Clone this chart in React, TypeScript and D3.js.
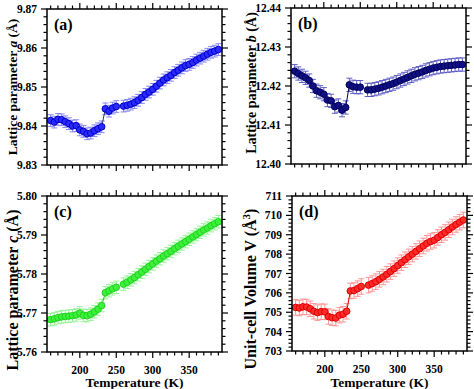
import React from 'react';
import * as d3 from 'd3';

// temperature steps (K); no point at 255 K
const temperature = [160, 165, 170, 175, 180, 185, 190, 195, 200, 205, 210, 215, 220, 225, 230,
  235, 240, 245, 250,
  260, 265, 270, 275, 280, 285, 290, 295, 300, 305, 310, 315, 320, 325, 330, 335, 340, 345,
  350, 355, 360, 365, 370, 375, 380, 385, 390];

const latticeA = [9.8414, 9.8410, 9.8417, 9.8416, 9.8411, 9.8406, 9.8400, 9.8401, 9.8390, 9.8386,
  9.8380, 9.8382, 9.8388, 9.8393, 9.8398,
  9.8444, 9.8438, 9.8446, 9.8450,
  9.8451, 9.8453, 9.8456, 9.8460, 9.8466, 9.8473, 9.8481, 9.8487, 9.8494, 9.8502, 9.8510,
  9.8518, 9.8524, 9.8530, 9.8537, 9.8543, 9.8549, 9.8555, 9.8558, 9.8563, 9.8569, 9.8574,
  9.8579, 9.8584, 9.8589, 9.8592, 9.8596];

const latticeB = [12.4238, 12.4232, 12.4226, 12.4221, 12.4214, 12.4200, 12.4188, 12.4184, 12.4179,
  12.4164, 12.4162, 12.4147, 12.4150, 12.4138, 12.4145,
  12.4203, 12.4198, 12.4197, 12.4197,
  12.4190, 12.4190, 12.4192, 12.4194, 12.4197, 12.4200, 12.4203, 12.4206, 12.4210, 12.4214,
  12.4218, 12.4222, 12.4226, 12.4230, 12.4233, 12.4236, 12.4240, 12.4243, 12.4246, 12.4248,
  12.4250, 12.4251, 12.4252, 12.4253, 12.4254, 12.4255, 12.4255];

const latticeC = [5.7683, 5.7685, 5.7688, 5.7690, 5.7691, 5.7692, 5.7693, 5.7695, 5.7700, 5.7694,
  5.7693, 5.7697, 5.7703, 5.7710, 5.7719,
  5.7752, 5.7757, 5.7762, 5.7766,
  5.7774, 5.7779, 5.7785, 5.7791, 5.7798, 5.7805, 5.7812, 5.7819, 5.7826, 5.7833, 5.7839,
  5.7846, 5.7852, 5.7858, 5.7865, 5.7871, 5.7877, 5.7883, 5.7889, 5.7895, 5.7901, 5.7907,
  5.7913, 5.7918, 5.7924, 5.7929, 5.7934];

const volume = [705.25, 705.22, 705.28, 705.27, 705.18, 705.05, 704.98, 705.03, 705.02, 704.78,
  704.72, 704.70, 704.85, 704.90, 705.05,
  706.10, 706.12, 706.22, 706.33,
  706.40, 706.48, 706.58, 706.70, 706.82, 706.96, 707.10, 707.25, 707.41, 707.56, 707.71,
  707.86, 708.00, 708.14, 708.28, 708.42, 708.56, 708.65, 708.72, 708.86, 709.00, 709.12,
  709.26, 709.40, 709.53, 709.65, 709.76];

const errA = 0.0015;
const errB = 0.0017;
const errC = 0.0016;
const errV = 0.4;

const xMajor = [200, 250, 300, 350];
const xMinor = [160, 170, 180, 190, 210, 220, 230, 240, 260, 270, 280, 290, 310, 320, 330, 340, 360, 370, 380, 390];

const serif = { fontFamily: 'Liberation Serif, Times New Roman, serif', fontWeight: 700 };

type PanelProps = {
  left: number; right: number; top: number; bottom: number;
  yDomain: [number, number]; yStep: number; yMinorStep: number; fmt: (v: number) => string;
  values: number[]; err: number;
  fill: string; stroke: string; errColor: string; lineColor: string;
  tag: string; title: React.ReactNode; titleX: number; titleY: number; titleSize: number;
  xLabels: boolean;
};

function Panel(p: PanelProps) {
  const x = d3.scaleLinear().domain([155, 395]).range([p.left, p.right]);
  const y = d3.scaleLinear().domain(p.yDomain).range([p.bottom, p.top]);
  const yMajor = d3.range(p.yDomain[0], p.yDomain[1] + p.yStep / 2, p.yStep);
  const yMinor = d3.range(p.yDomain[0], p.yDomain[1] + p.yMinorStep / 2, p.yMinorStep)
    .filter(v => yMajor.every(m => Math.abs(m - v) > p.yMinorStep / 10));

  // split into runs where the temperature step is 5 K
  const segments: number[][] = [];
  temperature.forEach((t, i) => {
    if (i === 0 || t - temperature[i - 1] > 5) segments.push([]);
    segments[segments.length - 1].push(i);
  });
  const line = d3.line<number>().x(i => x(temperature[i])).y(i => y(p.values[i]));
  const cap = 3;

  return (
    <g>
      {temperature.map((t, i) => {
        const cx = x(t), y1 = y(p.values[i] - p.err), y2 = y(p.values[i] + p.err);
        return (
          <g key={'e' + i} stroke={p.errColor} strokeWidth={0.9}>
            <line x1={cx} x2={cx} y1={y1} y2={y2} />
            <line x1={cx - cap} x2={cx + cap} y1={y1} y2={y1} />
            <line x1={cx - cap} x2={cx + cap} y1={y2} y2={y2} />
          </g>
        );
      })}
      {segments.map((s, k) => (
        <path key={'l' + k} d={line(s) || ''} fill="none" stroke={p.lineColor} strokeWidth={1} />
      ))}
      {temperature.map((t, i) => (
        <circle key={'m' + i} cx={x(t)} cy={y(p.values[i])} r={3.3} fill={p.fill} stroke={p.stroke} strokeWidth={1} />
      ))}
      <rect x={p.left} y={p.top} width={p.right - p.left} height={p.bottom - p.top} fill="none" stroke="#000" strokeWidth={1.5} />
      <g stroke="#000" strokeWidth={1.2}>
        {xMajor.map(t => (
          <g key={'xM' + t}>
            <line x1={x(t)} x2={x(t)} y1={p.bottom} y2={p.bottom + 6} />
            <line x1={x(t)} x2={x(t)} y1={p.top} y2={p.top - 6} />
          </g>
        ))}
        {xMinor.map(t => (
          <g key={'xm' + t}>
            <line x1={x(t)} x2={x(t)} y1={p.bottom} y2={p.bottom + 3.5} />
            <line x1={x(t)} x2={x(t)} y1={p.top} y2={p.top - 3.5} />
          </g>
        ))}
        {yMajor.map(v => (
          <g key={'yM' + v}>
            <line x1={p.left} x2={p.left - 6} y1={y(v)} y2={y(v)} />
            <line x1={p.right} x2={p.right + 6} y1={y(v)} y2={y(v)} />
          </g>
        ))}
        {yMinor.map(v => (
          <g key={'ym' + v}>
            <line x1={p.left} x2={p.left - 3.5} y1={y(v)} y2={y(v)} />
            <line x1={p.right} x2={p.right + 3.5} y1={y(v)} y2={y(v)} />
          </g>
        ))}
      </g>
      <g style={serif} fontSize={11.5} fill="#000">
        {yMajor.map(v => (
          <text key={'yl' + v} x={p.left - 10} y={y(v)} dy="0.35em" textAnchor="end" style={serif}>{p.fmt(v)}</text>
        ))}
        {p.xLabels && xMajor.map(t => (
          <text key={'xl' + t} x={x(t)} y={p.bottom + 22} textAnchor="middle" style={serif}>{t}</text>
        ))}
      </g>
      <text x={p.left + 7} y={p.top + 21} style={serif} fontSize={16}>{p.tag}</text>
      <text transform={`translate(${p.titleX},${p.titleY}) rotate(-90)`} textAnchor="middle"
        style={serif} fontSize={p.titleSize}>{p.title}</text>
      {p.xLabels && (
        <text x={(p.left + p.right) / 2} y={387} textAnchor="middle" style={serif} fontSize={13.5}>Temperature (K)</text>
      )}
    </g>
  );
}

export default function App() {
  const f2 = d3.format('.2f');
  const f0 = d3.format('d');
  return (
    <svg width={474} height={389} style={{ position: 'absolute', left: 0, top: 0, background: '#fff' }}>
      <Panel left={47} right={222} top={9} bottom={165} yDomain={[9.83, 9.87]} yStep={0.01} yMinorStep={0.002}
        fmt={f2} values={latticeA} err={errA} fill="#2a2aff" stroke="#0000c8" errColor="#7d7df0" lineColor="#303060"
        tag="(a)" title={<>Lattice parameter <tspan fontStyle="italic">a</tspan> (Å)</>} titleX={17} titleY={87} titleSize={13.5}
        xLabels={false} />
      <Panel left={291} right={466} top={8} bottom={164} yDomain={[12.40, 12.44]} yStep={0.01} yMinorStep={0.002}
        fmt={f2} values={latticeB} err={errB} fill="#101080" stroke="#000060" errColor="#5050c0" lineColor="#000050"
        tag="(b)" title={<>Lattice parameter <tspan fontStyle="italic">b</tspan> (Å)</>} titleX={256} titleY={83} titleSize={14}
        xLabels={false} />
      <Panel left={47} right={222} top={196} bottom={352} yDomain={[5.76, 5.80]} yStep={0.01} yMinorStep={0.002}
        fmt={f2} values={latticeC} err={errC} fill="#3cf03c" stroke="#1ed21e" errColor="#90f090" lineColor="#20c020"
        tag="(c)" title={<>Lattice parameter <tspan fontStyle="italic">c</tspan> (Å)</>} titleX={18} titleY={290} titleSize={16}
        xLabels={true} />
      <Panel left={292} right={467} top={196} bottom={351} yDomain={[703, 711]} yStep={1} yMinorStep={0.2}
        fmt={f0} values={volume} err={errV} fill="#ff2a2a" stroke="#e00000" errColor="#ff8a8a" lineColor="#e00000"
        tag="(d)" title={<>Unit-cell Volume V (Å<tspan dy={-6} fontSize={11}>3</tspan><tspan dy={6}>)</tspan></>}
        titleX={256} titleY={289} titleSize={16} xLabels={true} />
    </svg>
  );
}
